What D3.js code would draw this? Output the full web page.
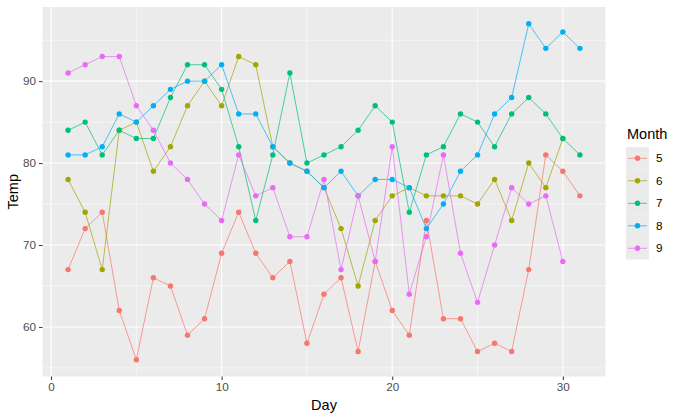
<!DOCTYPE html>
<html><head><meta charset="utf-8">
<script src="https://cdn.jsdelivr.net/npm/d3@7"></script>
<style>body{margin:0;background:#fff}svg{display:block}text{font-family:"Liberation Sans",Arial,sans-serif}</style>
</head><body><svg id="c" width="680" height="420"></svg>
<script>
const months = ["5","6","7","8","9"];
const colors = ["#F8766D","#A3A500","#00BF7D","#00B0F6","#E76BF3"];
const temp5 = [67,72,74,62,56,66,65,59,61,69,74,69,66,68,58,64,66,57,68,62,59,73,61,61,57,58,57,67,81,79,76];
const temp6 = [78,74,67,84,85,79,82,87,90,87,93,92,82,80,79,77,72,65,73,76,77,76,76,76,75,78,73,80,77,83];
const temp7 = [84,85,81,84,83,83,88,92,92,89,82,73,81,91,80,81,82,84,87,85,74,81,82,86,85,82,86,88,86,83,81];
const temp8 = [81,81,82,86,85,87,89,90,90,92,86,86,82,80,79,77,79,76,78,78,77,72,75,79,81,86,88,97,94,96,94];
const temp9 = [91,92,93,93,87,84,80,78,75,73,81,76,77,71,71,78,67,76,68,82,64,71,81,69,63,70,77,75,76,68];
const xTicks = [0,10,20,30];
const yTicks = [60,70,80,90];
const series = [temp5,temp6,temp7,temp8,temp9];

const svg = d3.select("#c");
const L=42.5, R=605.5, T=7, B=376.5;
const x = d3.scaleLinear().domain([-0.5,32.5]).range([L,R]);
const y = d3.scaleLinear().domain([53.95,99.05]).range([B,T]);

svg.append("rect").attr("x",L).attr("y",T).attr("width",R-L).attr("height",B-T).attr("fill","#EBEBEB");
const g = svg.append("g");
[5,15,25].forEach(v=>g.append("line").attr("x1",x(v)).attr("x2",x(v)).attr("y1",T).attr("y2",B).attr("stroke","#fff").attr("stroke-width",0.55));
[55,65,75,85,95].forEach(v=>g.append("line").attr("y1",y(v)).attr("y2",y(v)).attr("x1",L).attr("x2",R).attr("stroke","#fff").attr("stroke-width",0.55));
xTicks.forEach(v=>g.append("line").attr("x1",x(v)).attr("x2",x(v)).attr("y1",T).attr("y2",B).attr("stroke","#fff").attr("stroke-width",1.1));
yTicks.forEach(v=>g.append("line").attr("y1",y(v)).attr("y2",y(v)).attr("x1",L).attr("x2",R).attr("stroke","#fff").attr("stroke-width",1.1));

const line = d3.line().x((d,i)=>x(i+1)).y(d=>y(d));
series.forEach((s,k)=>{
  svg.append("path").attr("d",line(s)).attr("fill","none").attr("stroke",colors[k]).attr("stroke-width",0.7);
});
series.forEach((s,k)=>{
  svg.append("g").selectAll("circle").data(s).join("circle")
    .attr("cx",(d,i)=>x(i+1)).attr("cy",d=>y(d)).attr("r",2.7).attr("fill",colors[k]);
});

const xa = svg.append("g").attr("transform",`translate(0,${B})`)
  .call(d3.axisBottom(x).tickValues(xTicks).tickSize(3.5).tickPadding(3));
const ya = svg.append("g").attr("transform",`translate(${L},0)`)
  .call(d3.axisLeft(y).tickValues(yTicks).tickSize(3.5).tickPadding(3));
[xa,ya].forEach(a=>{
  a.select(".domain").remove();
  a.selectAll(".tick line").attr("stroke","#333").attr("stroke-width",1);
  a.selectAll(".tick text").attr("fill","#4D4D4D").attr("font-size","11.7px");
});

svg.append("text").attr("x",(L+R)/2).attr("y",410).attr("text-anchor","middle").attr("font-size","14.5px").attr("fill","#000").text("Day");
svg.append("text").attr("transform",`translate(18,${(T+B)/2}) rotate(-90)`).attr("text-anchor","middle").attr("font-size","14.5px").attr("fill","#000").text("Temp");

const lg = svg.append("g");
lg.append("text").attr("x",627).attr("y",139).attr("font-size","14.5px").text("Month");
const ky0 = 158.3, kstep = 22.5;
months.forEach((m,i)=>{
  const cy = ky0 + i*kstep;
  lg.append("rect").attr("x",626).attr("y",cy-11.25).attr("width",23).attr("height",22.5).attr("fill","#EBEBEB");
  lg.append("line").attr("x1",628).attr("x2",647).attr("y1",cy).attr("y2",cy).attr("stroke",colors[i]).attr("stroke-width",0.7);
  lg.append("circle").attr("cx",637.5).attr("cy",cy).attr("r",2.7).attr("fill",colors[i]);
  lg.append("text").attr("x",656).attr("y",cy+4).attr("font-size","11.7px").attr("fill","#000").text(m);
});
</script></body></html>
